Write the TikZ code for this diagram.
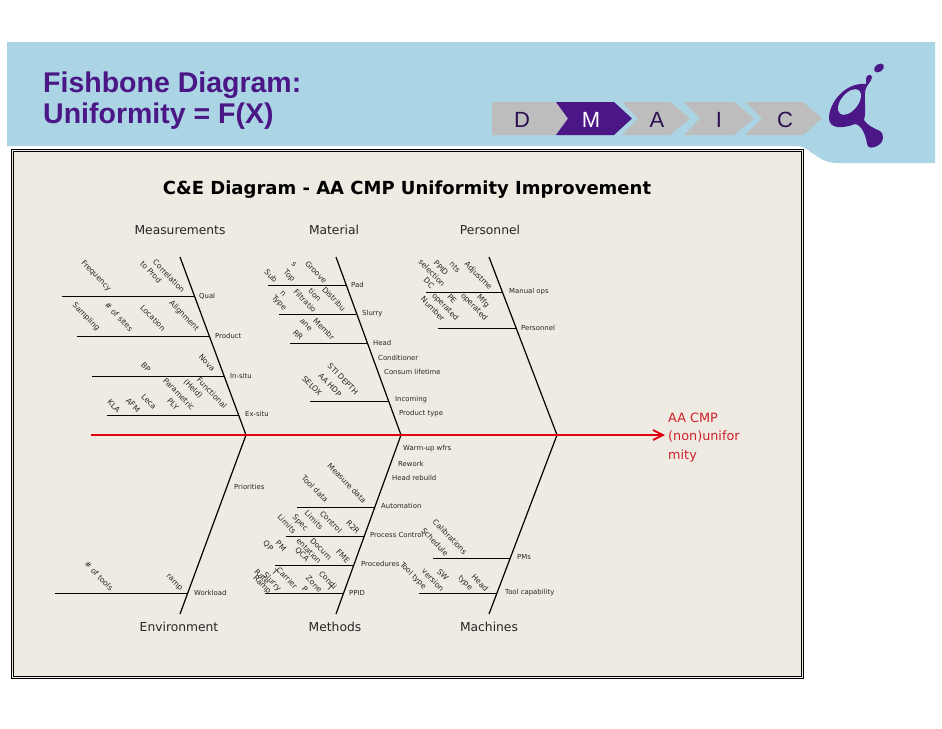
\documentclass[tikz,border=0pt]{standalone}
\usepackage{fontspec}
\setmainfont{DejaVu Sans}
\newfontfamily\headfont{Liberation Sans}
\usetikzlibrary{arrows.meta}
\definecolor{bluebg}{HTML}{ABD4E4}
\definecolor{boxbg}{HTML}{EFEBE2}
\definecolor{purp}{HTML}{4B1786}
\definecolor{chev}{HTML}{BDBDBD}
\definecolor{redl}{HTML}{D0202A}
\definecolor{spine}{HTML}{E00010}
\tikzset{
 bone/.style={draw=black,line width=1.2pt},
 rib/.style={draw=black,line width=1pt},
 rl/.style={font=\fontsize{7.6}{8}\selectfont,rotate=-46,inner sep=0pt,text=black!85},
 side/.style={font=\fontsize{6.9}{8}\selectfont,anchor=west,inner sep=0pt,text=black!85},
 cat/.style={font=\fontsize{12.3}{14}\selectfont,inner sep=0pt,text=black!85},
 redt/.style={font=\fontsize{12.8}{14}\selectfont,anchor=west,inner sep=0pt,text=redl},
 chevron/.style={fill=chev,draw=none},
 dm/.style={font=\headfont\fontsize{22}{24}\selectfont,inner sep=0pt,text=purp!60!black},
}
\begin{document}
\begin{tikzpicture}[x=1pt,y=-1pt]
\useasboundingbox (0,0) rectangle (942,728);
\fill[white] (0,0) rectangle (942,728);
\fill[bluebg] (7,42) -- (935,42) -- (935,163) -- (838,163) .. controls (825,163) and (820,158) .. (812,153) .. controls (806,148) and (803,146) .. (796,146) -- (7,146) -- cycle;
\node[font=\headfont\bfseries\fontsize{28.5}{30}\selectfont,text=purp,anchor=west,inner sep=0] (t1) at (43,85) {Fishbone Diagram:};
\node[font=\headfont\bfseries\fontsize{28.5}{30}\selectfont,text=purp,anchor=west,inner sep=0] (t2) at (43,116) {Uniformity = F(X)};
% chevrons
\fill[chevron] (492,102) -- (556,102) -- (574,120) -- (556,135) -- (492,135) -- cycle;
\fill[chevron] (622,102) -- (670,102) -- (690,118.5) -- (670,135) -- (622,135) -- (638,118.5) -- cycle;
\fill[chevron] (684,102) -- (734,102) -- (754,118.5) -- (734,135) -- (684,135) -- (700,118.5) -- cycle;
\fill[chevron] (745,102) -- (803,102) -- (822,118.5) -- (803,135) -- (745,135) -- (762,118.5) -- cycle;
\fill[purp] (556,102) -- (614,102) -- (632,118.5) -- (614,135) -- (556,135) -- (568,118.5) -- cycle;
\node[dm] (d) at (522,120) {D};
\node[dm,text=white] (m) at (591,120) {M};
\node[dm] (a) at (657,120) {A};
\node[dm] (i) at (719,120) {I};
\node[dm] (c) at (785,120) {C};
% logo
\fill[purp]
 (866,84) .. controls (845,82) and (829,103) .. (829,118)
 .. controls (829,129) and (842,129) .. (855,124)
 .. controls (862,125) and (866,136) .. (867,144) .. controls (868,149) and (873,148) .. (877,146)
 .. controls (885,142) and (884,133) .. (880,131) .. controls (873,128) and (867,125) .. (864,120)
 .. controls (867,110) and (863,96) .. (866,88) .. controls (868,84) and (872,80) .. (872,77)
 .. controls (871,73) and (866,75) .. (866,79) -- cycle;
\fill[bluebg,rotate around={51:(849.5,102)}] (849.5,102) ellipse [x radius=15,y radius=8.5];
\fill[purp,rotate around={35:(879,68)}] (879,68) ellipse [x radius=5.5,y radius=3.8];
% box
\fill[boxbg] (11,149) rectangle (803,678);
\draw[black,line width=0.9pt] (11,149) rectangle (803,678);
\draw[black,line width=0.4pt] (13,151) rectangle (801,676);
\node[font=\bfseries\fontsize{18}{20}\selectfont,inner sep=0] (title) at (407,190) {C\&E Diagram - AA CMP Uniformity Improvement};
% coordinates
\coordinate (h0) at (91,435); \coordinate (h1) at (246,435); \coordinate (h2) at (401,435); \coordinate (h3) at (557,435); \coordinate (h4) at (665,435);
\coordinate (a1) at (180,257); \coordinate (a2) at (336,257); \coordinate (a3) at (489,257);
\coordinate (b1) at (180,614); \coordinate (b2) at (336,614); \coordinate (b3) at (489,614);
\draw[bone] (a1)--(h1)--(b1);
\draw[bone] (a2)--(h2)--(b2);
\draw[bone] (a3)--(h3)--(b3);
\draw[color=spine,line width=1.3pt,-{Straight Barb[length=10pt,width=10pt,line width=1.8pt]}] (h0)--(h4);
% ribs
\foreach \name/\xa/\xb/\yy in {q/62/195/296,pr/77/209/336,is/92/224/376,es/107/239/415,
 pa/268/346/285,sl/279/356/314,he/290/367/343,inc/310/389/401,
 mo/426/503/292,pe/438/516/328,
 wl/55/187/593,au/297/375/507,pc/286/365/536.5,pd/275/354/565,pi/265/344/593,
 pm/433/510/558,tc/419/497/593}{
 \coordinate (\name L) at (\xa,\yy); \coordinate (\name R) at (\xb,\yy);
 \draw[rib] (\name L)--(\name R);
}
% categories
\node[cat] (c1) at (180,230) {Measurements};
\node[cat] (c2) at (334,230) {Material};
\node[cat] (c3) at (490,230) {Personnel};
\node[cat] (c4) at (179,626.5) {Environment};
\node[cat] (c5) at (335,626.5) {Methods};
\node[cat] (c6) at (489,626.5) {Machines};
% side labels
\foreach \n/\xx/\yy/\tx in {s1/199/296/Qual,s2/215/336/Product,s3/230/376/In-situ,s4/245/414/Ex-situ,
 s5/351/285/Pad,s6/362/314/Slurry,s7/373/343/Head,s8/378/358/Conditioner,s9/384/372/Consum lifetime,s10/395/400/Incoming,s11/399/414/Product type,
 s12/509/292/Manual ops,s13/521/328/Personnel,
 s14/403/449/Warm-up wfrs,s15/398/464/Rework,s16/392/478/Head rebuild,s17/381/506/Automation,s18/370/535/Process Control,s19/361/564/Procedures,s20/349/593/PPID,
 s21/517/557/PMs,s22/505/593/Tool capability,s23/194/593/Workload,s24/234/487/Priorities}{
 \node[side] (\n) at (\xx,\yy) {\tx};
}
% rotated labels
\foreach \n/\xx/\yy/\tx in {r1/96/276/Frequency,r2/169/276/Correlation,r3/151/272/to Prod,r4/86/317/Sampling,r5/119/317/\# of sites,r6/153/318/Location,r7/184/316/Alignment,r8/207/363/Nova,r9/146/367/BP,r10/212/393/Functional,r11/193/389/(Held),r12/179/394/Parametric,r13/173/404/PLY,r14/149/402/Leca,r15/133/405/AFM,r16/114/406/KLA,
 r17/271/276/Sub,r18/289/276/Top,r19/294/264/s,r20/316/272/Groove,r21/334/299/Distribu,r22/315/295/tion,r23/305/301/Filtratio,r24/283/294/n,r25/279/303/Type,r26/324/329/Membr,r27/306/325/ane,r28/298/335/RR,r29/343/379/STI DEPTH,r30/330/385/AA HDP,r31/312/386/SELOX,
 r32/478/276/Adjustme,r33/455/267/nts,r34/441/268/PPID,r35/432/273/selection,r36/429/283/DC,r37/483/301/Mfg,r38/474/307/operated,r39/452/299/PE,r40/445/307/operated,r41/433/309/Number,
 r42/347/483/Measure data,r43/315/489/Tool data,r44/353/527/R2R,r45/331/522/Control,r46/314/520/Limits,r47/300/523/Spec,r48/287/524/Limits,r49/343/556/FME,r50/321/549/Docum,r51/309/551/entation,r52/302/555/QCA,r53/281/546/PM,r54/268/546/QP,
 r55/328/580/Condi,r68/330/588/T,r56/314/584/Zone,r57/305/589/P,r58/287/578/Carrier,r69/262/577/Rate,r70/272/582/Slurry,r71/262/585/Ramp,r72/275/572/T,
 r59/450/537/Calibrations,r60/435/542/Schedule,r61/413/576/Tool type,r62/443/575/SW,r63/433/580/version,r64/465/583/type,r65/480/583/Head,
 r66/99/576/\# of tools,r67/174/583/ramp}{
 \node[rl] (\n) at (\xx,\yy) {\tx};
}
% red text
\node[redt] (e1) at (668,417.5) {AA CMP};
\node[redt] (e2) at (668,436.5) {(non)unifor};
\node[redt] (e3) at (668,455.5) {mity};
\end{tikzpicture}
\end{document}
